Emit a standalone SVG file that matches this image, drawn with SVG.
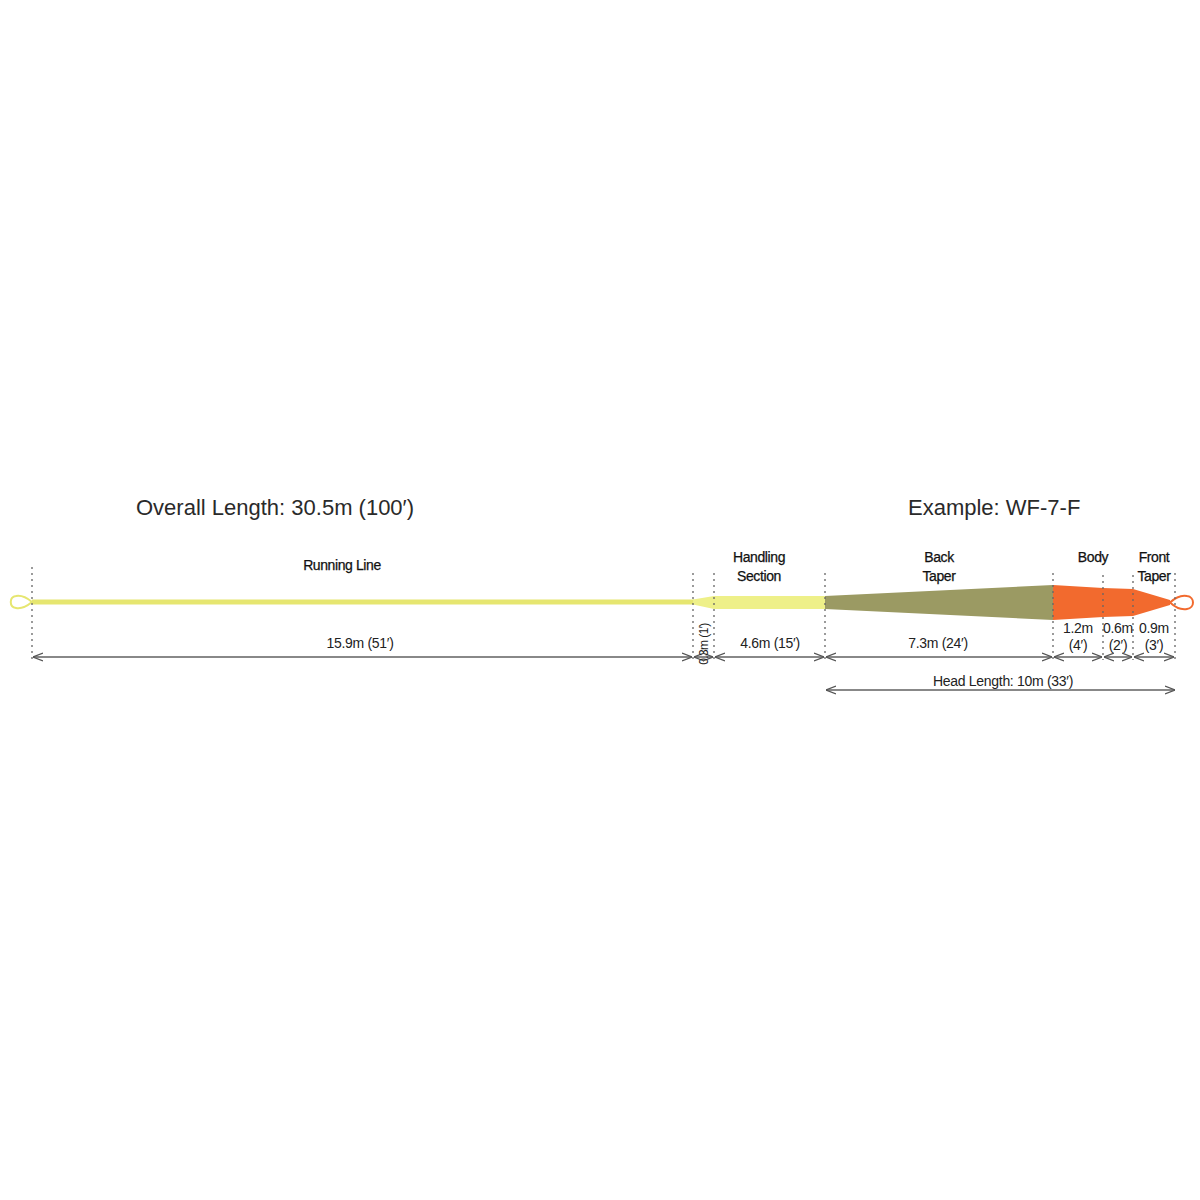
<svg xmlns="http://www.w3.org/2000/svg" width="1200" height="1200" viewBox="0 0 1200 1200">
<defs>
<style>
.title{font-family:"Liberation Sans",Arial,sans-serif;font-size:22px;fill:#2a2a2a}
.lbl{font-family:"Liberation Sans",Arial,sans-serif;font-size:14px;fill:#111;text-anchor:middle;letter-spacing:-0.4px;stroke:#111;stroke-width:0.25}
.dim{font-family:"Liberation Sans",Arial,sans-serif;font-size:14px;fill:#222;text-anchor:middle;letter-spacing:-0.3px}
.dot{stroke:#666;stroke-width:1.3;stroke-dasharray:2 4;fill:none}
.dl{stroke:#888;stroke-width:2;fill:none}
</style>
<marker id="ah" viewBox="0 0 10 10" refX="10" refY="5" markerWidth="10" markerHeight="10" markerUnits="userSpaceOnUse" orient="auto-start-reverse">
<path d="M0,1 L10,5 L0,9" fill="none" stroke="#555" stroke-width="1.3"/>
</marker>
</defs>
<rect width="1200" height="1200" fill="#ffffff"/>
<g id="titles">
<text class="title" x="136" y="515">Overall Length: 30.5m (100′)</text>
<text class="title" x="908" y="515">Example: WF-7-F</text>
</g>
<g id="line">
<path d="M32,602 C26,597 21,595 16,596 C9,597 9,607 16,608 C21,609 26,607 32,602" fill="none" stroke="#e6e670" stroke-width="2"/>
<rect x="32" y="599.5" width="662" height="5" fill="#e6e670"/>
<path d="M693,599.5 L714,596 L825,596 L825,609 L714,609 L693,604.5 Z" fill="#eef089"/>
<path d="M825,596 L1053,585 L1053,620 L825,609 Z" fill="#9b9a63"/>
<path d="M1053,585 L1103,588 L1133,589 L1170,600 L1170,605 L1133,616 L1103,617 L1053,620 Z" fill="#f26a2e"/>
<path d="M1170,602.5 C1176,597 1182,595 1187,596 C1195,597 1195,608 1187,609 C1182,610 1176,608 1170,602.5" fill="none" stroke="#f26a2e" stroke-width="2"/>
</g>
<g id="section-labels">
<text class="lbl" x="342" y="570">Running Line</text>
<text class="lbl" x="759" y="562">Handling</text>
<text class="lbl" x="759" y="581">Section</text>
<text class="lbl" x="939" y="562">Back</text>
<text class="lbl" x="939" y="581">Taper</text>
<text class="lbl" x="1093" y="562">Body</text>
<text class="lbl" x="1154" y="562">Front</text>
<text class="lbl" x="1154" y="581">Taper</text>
</g>
<g id="connectors">
<line class="dot" x1="32" y1="567" x2="32" y2="662"/>
<line class="dot" x1="693" y1="573" x2="693" y2="663"/>
<line class="dot" x1="714" y1="573" x2="714" y2="663"/>
<line class="dot" x1="825" y1="573" x2="825" y2="662"/>
<line class="dot" x1="1053" y1="573" x2="1053" y2="662"/>
<line class="dot" x1="1103" y1="575" x2="1103" y2="660"/>
<line class="dot" x1="1133" y1="575" x2="1133" y2="660"/>
<line class="dot" x1="1175" y1="573" x2="1175" y2="662"/>
<line class="dl" x1="33" y1="657" x2="692" y2="657" marker-start="url(#ah)" marker-end="url(#ah)"/>
<line class="dl" x1="694" y1="657" x2="713" y2="657" marker-start="url(#ah)" marker-end="url(#ah)"/>
<line class="dl" x1="715" y1="657" x2="824" y2="657" marker-start="url(#ah)" marker-end="url(#ah)"/>
<line class="dl" x1="826" y1="657" x2="1052" y2="657" marker-start="url(#ah)" marker-end="url(#ah)"/>
<line class="dl" x1="1054" y1="657" x2="1102" y2="657" marker-start="url(#ah)" marker-end="url(#ah)"/>
<line class="dl" x1="1104" y1="657" x2="1132" y2="657" marker-start="url(#ah)" marker-end="url(#ah)"/>
<line class="dl" x1="1134" y1="657" x2="1174" y2="657" marker-start="url(#ah)" marker-end="url(#ah)"/>
<line class="dl" x1="826" y1="690" x2="1175" y2="690" marker-start="url(#ah)" marker-end="url(#ah)"/>
</g>
<g id="dimension-labels">
<text class="dim" x="360" y="648">15.9m (51′)</text>
<text class="dim" transform="translate(708,644) rotate(-90)" x="0" y="0" style="font-size:12px;letter-spacing:-0.6px">0.3m (1′)</text>
<text class="dim" x="770" y="648">4.6m (15′)</text>
<text class="dim" x="938" y="648">7.3m (24′)</text>
<text class="dim" x="1078" y="633">1.2m</text>
<text class="dim" x="1078" y="650">(4′)</text>
<text class="dim" x="1118" y="633">0.6m</text>
<text class="dim" x="1118" y="650">(2′)</text>
<text class="dim" x="1154" y="633">0.9m</text>
<text class="dim" x="1154" y="650">(3′)</text>
<text class="dim" x="1003" y="686">Head Length: 10m (33′)</text>
</g>
</svg>
